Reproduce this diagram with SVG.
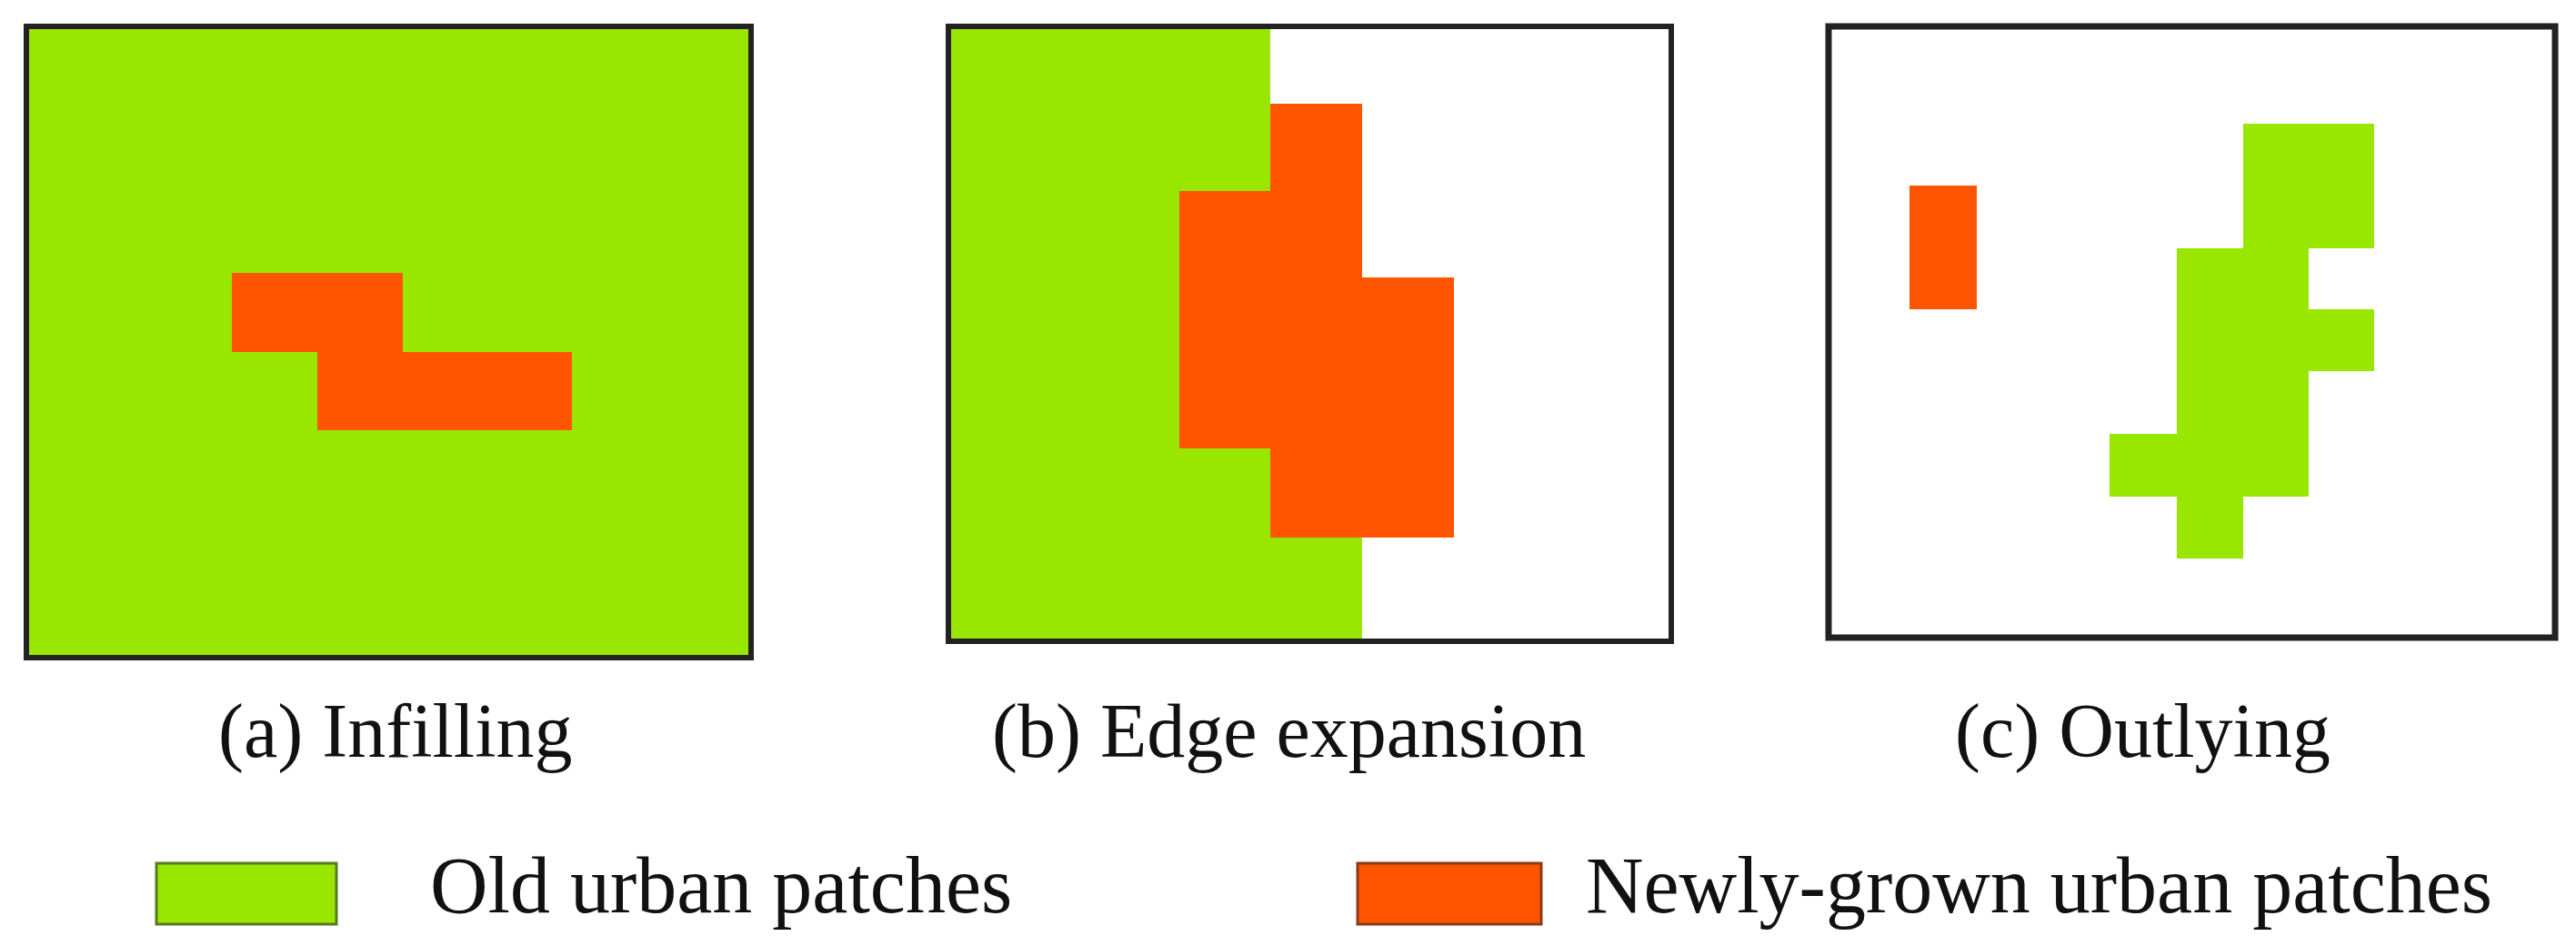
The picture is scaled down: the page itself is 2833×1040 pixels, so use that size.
<svg xmlns="http://www.w3.org/2000/svg" width="2833" height="1040" viewBox="0 0 2833 1040">
<style>
.g{fill:#99e600}.o{fill:#ff5500}
.frame{fill:none;stroke:#222;stroke-width:6}
.cap{font-family:"Liberation Serif",serif;font-size:84px;fill:#111}
.leg{font-family:"Liberation Serif",serif;font-size:88px;fill:#111}
</style>
<rect width="2833" height="1040" fill="#fff"/>
<g id="panel-a">
<rect class="g" x="29" y="29" width="797" height="694"/>
<polygon class="o" points="255,300 443,300 443,387 629,387 629,473 349,473 349,387 255,387"/>
<rect class="frame" x="29" y="29" width="797" height="694"/>
<text class="cap" x="240" y="832">(a) Infilling</text>
</g>
<g id="panel-b">
<rect class="g" x="1043" y="29" width="354" height="676"/>
<rect class="g" x="1397" y="591" width="101" height="114"/>
<polygon class="o" points="1397,114 1498,114 1498,305 1599,305 1599,591 1397,591 1397,493 1297,493 1297,210 1397,210"/>
<rect class="frame" x="1043" y="29" width="795" height="676"/>
<text class="cap" x="1091" y="832">(b) Edge expansion</text>
</g>
<g id="panel-c">
<rect class="o" x="2100" y="204" width="74" height="136"/>
<polygon class="g" points="2467,136 2611,136 2611,273 2539,273 2539,340 2611,340 2611,408 2539,408 2539,546 2467,546 2467,614 2394,614 2394,546 2320,546 2320,477 2394,477 2394,273 2467,273"/>
<rect class="frame" x="2011" y="29" width="799" height="672" style="stroke-width:7"/>
<text class="cap" x="2150" y="832">(c) Outlying</text>
</g>
<g id="legend">
<rect x="172" y="949" width="198" height="67" fill="#99e600" stroke="#5a7a20" stroke-width="3"/>
<text class="leg" x="473" y="1003">Old urban patches</text>
<rect x="1493" y="949" width="202" height="67" fill="#ff5500" stroke="#8a3a1a" stroke-width="3"/>
<text class="leg" x="1744" y="1003">Newly-grown urban patches</text>
</g>
<g id="connectors"/>
</svg>
